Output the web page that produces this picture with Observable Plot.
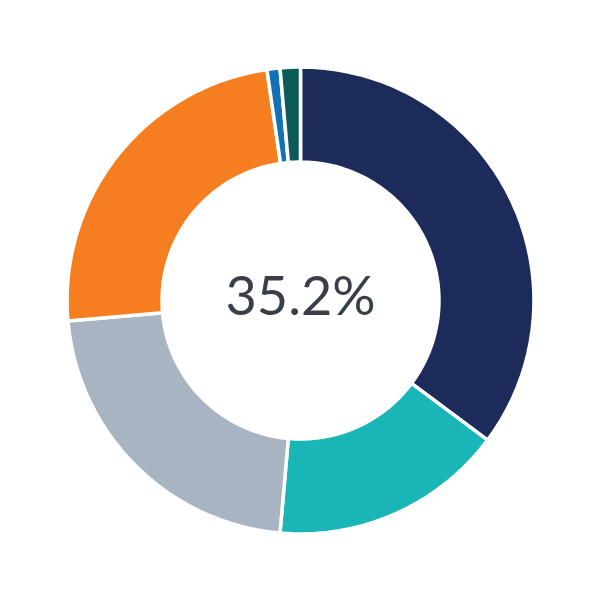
<!DOCTYPE html>
<html>
<head>
<meta charset="utf-8">
<script src="https://cdn.jsdelivr.net/npm/d3@7"></script>
<script src="https://cdn.jsdelivr.net/npm/@observablehq/plot@0.6"></script>
<style>
  html, body { margin: 0; padding: 0; background: #ffffff; }
  #chart { width: 600px; height: 600px; }
</style>
</head>
<body>
<div id="chart"></div>
<script>
// Data
const categories = ["A", "B", "C", "D", "E", "F"];
const values = [35.2, 16.2, 22.2, 24.1, 0.9, 1.4];
const colors = ["#1c2b5a", "#1ab5b7", "#a9b4c3", "#f47e20", "#1372b3", "#0d5b59"];
const centerLabel = values[0].toFixed(1) + "%";

// Geometry helpers (layout constants)
const outerR = 233.5;
const innerR = 138.5;
const steps = 120;

const pie = d3.pie().sort(null).value(d => d.value).startAngle(0).endAngle(2 * Math.PI);
const arcs = pie(categories.map((c, i) => ({ key: c, value: values[i] })));

const pts = [];
arcs.forEach(a => {
  const n = Math.max(4, Math.ceil(steps * (a.endAngle - a.startAngle) / (2 * Math.PI)));
  for (let k = 0; k <= n; k++) {
    const t = a.startAngle + (a.endAngle - a.startAngle) * k / n;
    pts.push({ key: a.data.key, x: outerR * Math.sin(t), y: outerR * Math.cos(t) });
  }
  for (let k = n; k >= 0; k--) {
    const t = a.startAngle + (a.endAngle - a.startAngle) * k / n;
    pts.push({ key: a.data.key, x: innerR * Math.sin(t), y: innerR * Math.cos(t) });
  }
});

const chart = Plot.plot({
  width: 600,
  height: 600,
  margin: 0,
  style: { fontFamily: "Lato, 'Open Sans', sans-serif", background: "#ffffff" },
  x: { domain: [-300, 300], axis: null },
  y: { domain: [-300, 300], axis: null },
  color: { domain: categories, range: colors },
  marks: [
    Plot.line(pts, {
      x: "x", y: "y", z: "key", fill: "key",
      stroke: "#ffffff", strokeWidth: 3.5, strokeLinejoin: "miter",
      curve: "linear-closed"
    }),
    Plot.text([centerLabel], {
      frameAnchor: "middle", text: d => d,
      fontSize: 54, fill: "#3a3e48", dy: -3
    })
  ]
});
document.getElementById("chart").appendChild(chart);
</script>
</body>
</html>
